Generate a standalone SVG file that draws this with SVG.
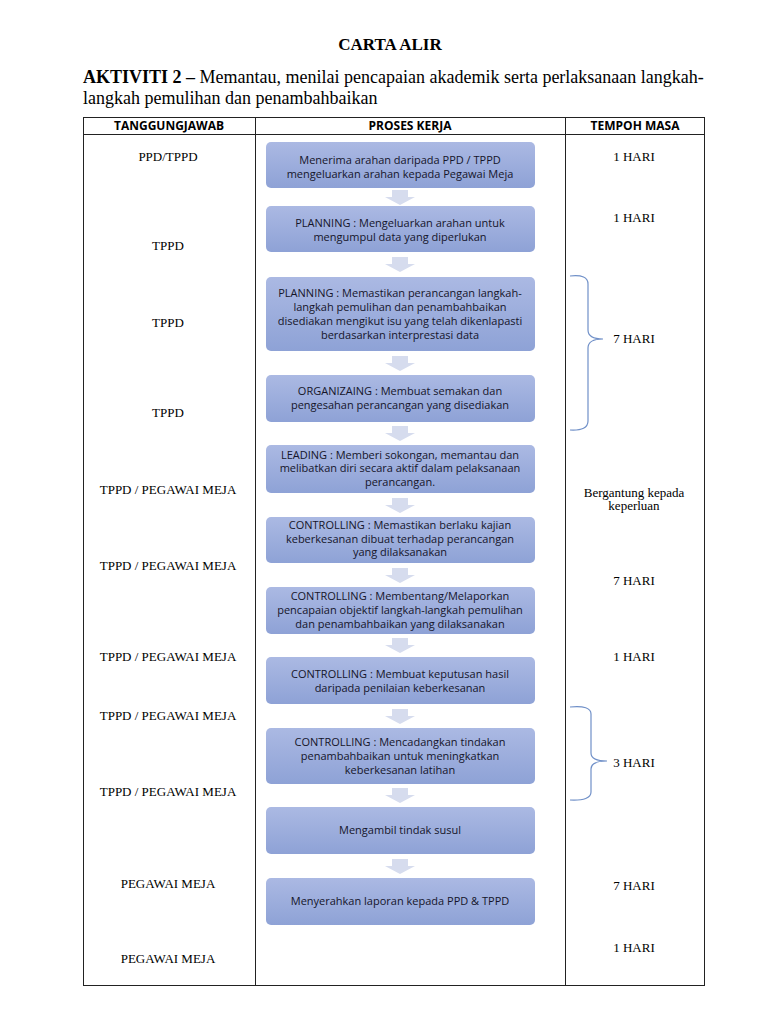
<svg xmlns="http://www.w3.org/2000/svg" width="768" height="1024" viewBox="0 0 768 1024">
<style>
.serif{font-family:"Liberation Serif","Times New Roman",serif;fill:#000}
.cell{font-size:13px;text-anchor:middle}
.hdr{font-family:"Open Sans","Liberation Sans",sans-serif;font-weight:bold;font-size:12px;text-anchor:middle;fill:#000}
.bx{fill:url(#g);}
.bt{font-family:"Open Sans","Liberation Sans",sans-serif;font-size:11px;text-anchor:middle;fill:#15152a}
.arr{fill:#d6dcee}
.brace{fill:none;stroke:#7090c8;stroke-width:1.2}
.grid{stroke:#222;stroke-width:1;fill:none}
</style>
<defs>
<linearGradient id="g" x1="0" y1="0" x2="0" y2="1">
<stop offset="0" stop-color="#abb9e3"/>
<stop offset="1" stop-color="#8ea2d6"/>
</linearGradient>
<path id="a" d="M-8,0 H8 V7 H15 L0,15 L-15,7 H-8 Z"/>
</defs>
<rect width="768" height="1024" fill="#fff"/>
<text class="serif" x="390" y="50" font-size="17" font-weight="bold" text-anchor="middle">CARTA ALIR</text>
<text class="serif" x="83" y="83" font-size="18"><tspan font-weight="bold">AKTIVITI 2 – </tspan> Memantau, menilai pencapaian akademik serta perlaksanaan langkah-</text>
<text class="serif" x="83" y="104" font-size="18">langkah pemulihan dan penambahbaikan</text>
<g id="table">
<rect class="grid" x="83.5" y="117.5" width="621" height="868"/>
<line class="grid" x1="83" y1="134.5" x2="705" y2="134.5"/>
<line class="grid" x1="255.5" y1="117" x2="255.5" y2="986"/>
<line class="grid" x1="565.5" y1="117" x2="565.5" y2="986"/>
<text class="hdr" x="169" y="130">TANGGUNGJAWAB</text>
<text class="hdr" x="410" y="130">PROSES KERJA</text>
<text class="hdr" x="635" y="130">TEMPOH MASA</text>
</g>
<g id="tanggungjawab" class="serif cell">
<text x="168" y="161">PPD/TPPD</text>
<text x="168" y="250">TPPD</text>
<text x="168" y="327">TPPD</text>
<text x="168" y="417">TPPD</text>
<text x="168" y="494">TPPD / PEGAWAI MEJA</text>
<text x="168" y="570">TPPD / PEGAWAI MEJA</text>
<text x="168" y="661">TPPD / PEGAWAI MEJA</text>
<text x="168" y="720">TPPD / PEGAWAI MEJA</text>
<text x="168" y="796">TPPD / PEGAWAI MEJA</text>
<text x="168" y="888">PEGAWAI MEJA</text>
<text x="168" y="963">PEGAWAI MEJA</text>
</g>
<g id="tempoh" class="serif cell">
<text x="634" y="161">1 HARI</text>
<text x="634" y="222">1 HARI</text>
<text x="634" y="343">7 HARI</text>
<text x="634" y="497">Bergantung kepada</text>
<text x="634" y="510">keperluan</text>
<text x="634" y="585">7 HARI</text>
<text x="634" y="661">1 HARI</text>
<text x="634" y="767">3 HARI</text>
<text x="634" y="890">7 HARI</text>
<text x="634" y="952">1 HARI</text>
</g>
<g id="braces">
<path class="brace" d="M570,276 Q588,274 588,284 V330 Q588,339 603,339 Q588,339 588,348 V421 Q588,431 570,430"/>
<path class="brace" d="M570,707 Q591,705 591,714 V753 Q591,761 607,761 Q591,761 591,769 V792 Q591,801 570,800"/>
</g>
<g id="connectors" class="arr">
<use href="#a" x="400" y="190"/>
<use href="#a" x="400" y="257"/>
<use href="#a" x="400" y="356"/>
<use href="#a" x="400" y="426"/>
<use href="#a" x="400" y="498"/>
<use href="#a" x="400" y="568"/>
<use href="#a" x="400" y="638"/>
<use href="#a" x="400" y="709"/>
<use href="#a" x="400" y="788"/>
<use href="#a" x="400" y="859"/>
</g>
<g id="n1"><rect class="bx" x="266" y="142" width="269" height="46" rx="5"/>
<text class="bt" x="400" y="164">Menerima arahan daripada PPD / TPPD</text>
<text class="bt" x="400" y="178">mengeluarkan arahan kepada Pegawai Meja</text></g>
<g id="n2"><rect class="bx" x="266" y="206" width="269" height="46" rx="5"/>
<text class="bt" x="400" y="227">PLANNING : Mengeluarkan arahan untuk</text>
<text class="bt" x="400" y="241">mengumpul data yang diperlukan</text></g>
<g id="n3"><rect class="bx" x="266" y="277" width="269" height="74" rx="5"/>
<text class="bt" x="400" y="297">PLANNING : Memastikan perancangan langkah-</text>
<text class="bt" x="400" y="311">langkah pemulihan dan penambahbaikan</text>
<text class="bt" x="400" y="325">disediakan mengikut isu yang telah dikenlapasti</text>
<text class="bt" x="400" y="339">berdasarkan interprestasi data</text></g>
<g id="n4"><rect class="bx" x="266" y="375" width="269" height="47" rx="5"/>
<text class="bt" x="400" y="395">ORGANIZAING : Membuat semakan dan</text>
<text class="bt" x="400" y="409">pengesahan perancangan yang disediakan</text></g>
<g id="n5"><rect class="bx" x="266" y="445" width="269" height="48" rx="5"/>
<text class="bt" x="400" y="459">LEADING : Memberi sokongan, memantau dan</text>
<text class="bt" x="400" y="472">melibatkan diri secara aktif dalam pelaksanaan</text>
<text class="bt" x="400" y="486">perancangan.</text></g>
<g id="n6"><rect class="bx" x="266" y="517" width="269" height="46" rx="5"/>
<text class="bt" x="400" y="529">CONTROLLING : Memastikan berlaku kajian</text>
<text class="bt" x="400" y="543">keberkesanan dibuat terhadap perancangan</text>
<text class="bt" x="400" y="556">yang dilaksanakan</text></g>
<g id="n7"><rect class="bx" x="266" y="587" width="269" height="47" rx="5"/>
<text class="bt" x="400" y="600">CONTROLLING : Membentang/Melaporkan</text>
<text class="bt" x="400" y="614">pencapaian objektif langkah-langkah pemulihan</text>
<text class="bt" x="400" y="628">dan penambahbaikan yang dilaksanakan</text></g>
<g id="n8"><rect class="bx" x="266" y="657" width="269" height="47" rx="5"/>
<text class="bt" x="400" y="678">CONTROLLING : Membuat keputusan hasil</text>
<text class="bt" x="400" y="692">daripada penilaian keberkesanan</text></g>
<g id="n9"><rect class="bx" x="266" y="728" width="269" height="56" rx="5"/>
<text class="bt" x="400" y="746">CONTROLLING : Mencadangkan tindakan</text>
<text class="bt" x="400" y="760">penambahbaikan untuk meningkatkan</text>
<text class="bt" x="400" y="774">keberkesanan latihan</text></g>
<g id="n10"><rect class="bx" x="266" y="807" width="269" height="47" rx="5"/>
<text class="bt" x="400" y="834">Mengambil tindak susul</text></g>
<g id="n11"><rect class="bx" x="266" y="878" width="269" height="47" rx="5"/>
<text class="bt" x="400" y="905">Menyerahkan laporan kepada PPD &amp; TPPD</text></g>
</svg>
